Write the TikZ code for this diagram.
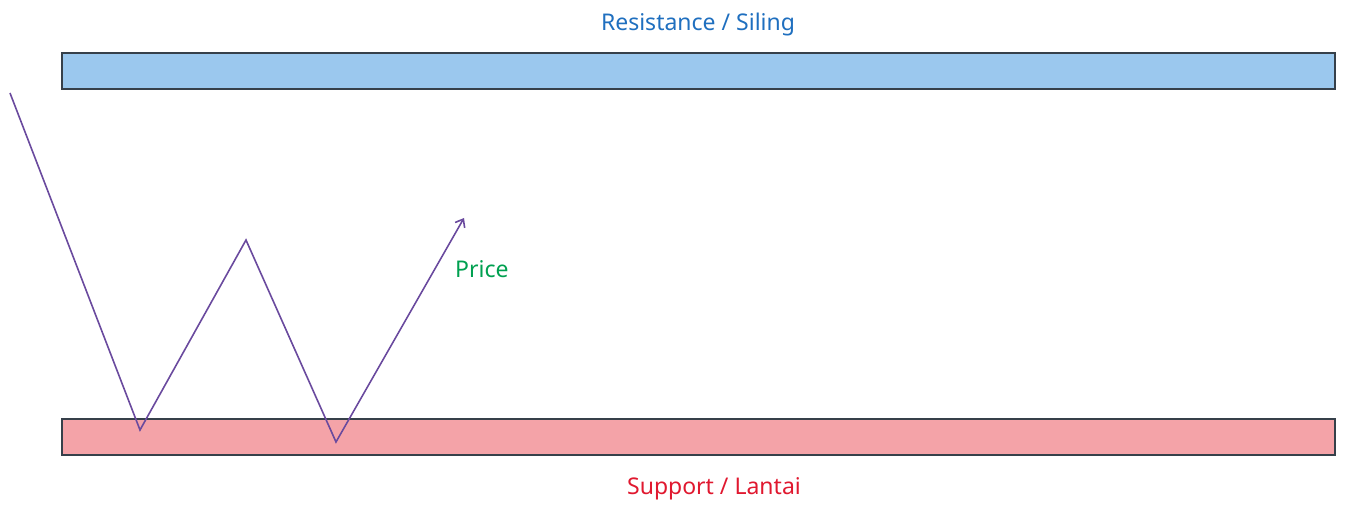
\documentclass[tikz,border=0pt]{standalone}
\usepackage{fontspec}
\setmainfont{Noto Sans}
\usetikzlibrary{arrows.meta}
\definecolor{resblue}{HTML}{9BC8EE}
\definecolor{suppink}{HTML}{F4A3A8}
\definecolor{barline}{HTML}{36404A}
\definecolor{pricepurple}{HTML}{6A4A9E}
\definecolor{restext}{HTML}{1F6FBF}
\definecolor{suptext}{HTML}{E0182F}
\definecolor{pricetext}{HTML}{00A050}
\tikzset{
  bar/.style={draw=barline, line width=1.6pt, minimum width=1273pt, minimum height=36pt, inner sep=0pt, anchor=north west},
  lbl/.style={font=\fontsize{23}{27}\selectfont, inner sep=0pt},
  pline/.style={draw=pricepurple, line width=1.6pt, line join=miter}
}
\begin{document}
\begin{tikzpicture}[x=1pt,y=-1pt]
\useasboundingbox (0,0) rectangle (1349,513);
\node[bar, fill=resblue] (res) at (61,52) {};
\node[bar, fill=suppink] (sup) at (61,418) {};
\node[lbl, text=restext] (restxt) at (698,25) {Resistance / Siling};
\node[lbl, text=suptext] (suptxt) at (714,489) {Support / Lantai};
\node[lbl, text=pricetext, anchor=west] (pricetxt) at (455,269) {Price};
\coordinate (p0) at (10,93);
\coordinate (p1) at (140,430);
\coordinate (p2) at (246,240);
\coordinate (p3) at (336,442);
\coordinate (p4) at (464,218);
\draw[pline, -{Straight Barb[length=7pt,width=11pt]}] (p0) -- (p1) -- (p2) -- (p3) -- (p4);
\end{tikzpicture}
\end{document}
